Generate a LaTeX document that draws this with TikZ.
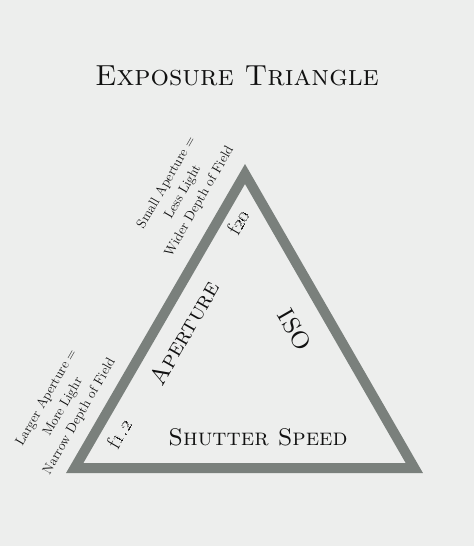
\documentclass[tikz,border=0pt]{standalone}
\usepackage{xcolor}
\usepackage{tikz}
\usetikzlibrary{positioning}
\definecolor{paper}{HTML}{EDEEED}
\definecolor{edgegray}{HTML}{7A807C}
\definecolor{ink}{HTML}{111111}

\begin{document}
\begin{tikzpicture}[x=1pt, y=-1pt,
    label/.style={text=ink, inner sep=0pt},
    note/.style={label, align=center, font=\fontsize{13.5}{19}\selectfont, rotate=60},
    leg/.style={label, font=\fontsize{24}{24}\selectfont\scshape},
    fstop/.style={label, font=\fontsize{21}{21}\selectfont, rotate=60}]
  % Background
  \fill[paper] (0,0) rectangle (474,546);
  \useasboundingbox (0,0) rectangle (474,546);
  % Corners
  \coordinate (apex) at (245,174);
  \coordinate (lowleft) at (74.7,468);
  \coordinate (lowright) at (414.3,468);
  % Triangle
  \draw[edgegray, line width=10pt, line join=miter] (apex) -- (lowleft) -- (lowright) -- cycle;
  % Title
  \node[label, font=\fontsize{29}{29}\selectfont\scshape] (title) at (237,76) {Exposure Triangle};
  % Sides
  \node[leg] (shutter) at (258,437) {Shutter Speed};
  \node[leg, rotate=60] (aperture) at (184,333) {Aperture};
  \node[leg, rotate=-60] (iso) at (295,330) {ISO};
  % Stops
  \node[fstop] (fsmall) at (238,222) {f\oldstylenums{20}};
  \node[fstop] (flarge) at (119,434) {f\oldstylenums{1.2}};
  % Notes
  \node[note] (smallnote) at (183,192) {Small Aperture =\\Less Light\\Wider Depth of Field};
  \node[note] (largenote) at (63,407) {Larger Aperture =\\More Lighr\\Narrow Depth of Field};
\end{tikzpicture}
\end{document}
